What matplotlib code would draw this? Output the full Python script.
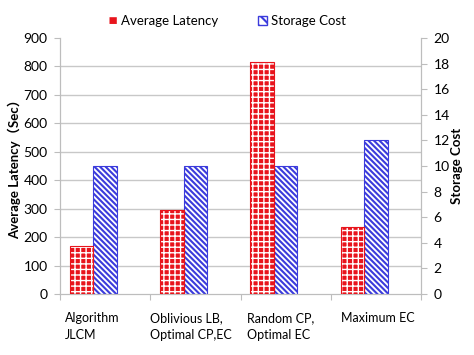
import matplotlib
matplotlib.use("Agg")
import matplotlib.pyplot as plt
import numpy as np
from matplotlib.patches import Patch

plt.rcParams['font.family'] = ['Lato', 'Noto Sans CJK SC', 'DejaVu Sans']
plt.rcParams['hatch.linewidth'] = 1.5

categories = ["Algorithm\nJLCM", "Oblivious LB,\nOptimal CP,EC",
              "Random CP,\nOptimal EC", "Maximum EC"]
latency = [170, 296, 815, 235]
storage = [10, 10, 10, 12]

fig = plt.figure(figsize=(4.74, 3.55), dpi=100)
ax = fig.add_axes([0.1266, 0.172, 0.7616, 0.721])
ax2 = ax.twinx()
ax.set_zorder(2)
ax.patch.set_visible(False)

x = np.arange(len(categories))
w = 0.26

# latency bars sit left of the category centre, storage bars on the centre
with plt.rc_context({"hatch.linewidth": 1.0}):
    ax.bar(x - w, latency, width=w, color="#e8141c", edgecolor="white",
           hatch="+++", linewidth=0, zorder=3)
ax.bar(x - w, latency, width=w, facecolor="none",
       edgecolor="#e8141c", linewidth=0.8, zorder=4)
ax2.bar(x, storage, width=w, color="white", edgecolor="#3b3bdc",
        hatch="\\\\\\\\\\\\", linewidth=0.8, zorder=3)

ax.set_xlim(-0.5, 3.5)
ax.set_ylim(0, 900)
ax.set_yticks(np.arange(0, 901, 100))
ax2.set_ylim(0, 20)
ax2.set_yticks(np.arange(0, 21, 2))

ax2.set_yticks(np.arange(0, 901, 100) / 45, minor=True)
ax2.yaxis.grid(True, which="minor", color="#c8c8c8", linewidth=1.0, zorder=0)
ax2.tick_params(axis="y", which="minor", length=0)
ax2.set_axisbelow(True)

for a in (ax, ax2):
    a.spines["top"].set_visible(False)
    for s in ("left", "right", "bottom"):
        a.spines[s].set_color("#bdbdbd")
    a.tick_params(axis="y", which="major", labelsize=10, length=4,
                  color="#bdbdbd", pad=5)

ax.set_xticks(np.arange(-0.5, 3.6, 1))
ax.set_xticklabels([])
ax.tick_params(axis="x", length=4, color="#bdbdbd")

label_x = [-0.45, -0.5, -0.43, -0.39]
for i, lab in enumerate(categories):
    ax.text(i + label_x[i], -0.07, lab, transform=ax.get_xaxis_transform(),
            ha="left", va="top", fontsize=9, linespacing=1.5)

ax.set_ylabel("Average Latency（Sec）", fontsize=9.5, fontweight="bold", labelpad=2)
ax2.set_ylabel("Storage Cost", fontsize=9.5, fontweight="bold", labelpad=1)

handles = [Patch(facecolor="#e8141c", edgecolor="white", hatch="+"),
           Patch(facecolor="white", edgecolor="#3b3bdc", hatch="\\\\\\")]
fig.legend(handles, ["Average Latency", "Storage Cost"], loc="center",
           bbox_to_anchor=(0.479, 0.94), ncol=2, frameon=False, fontsize=9.5,
           handlelength=0.7, handleheight=0.7, handletextpad=0.3, columnspacing=3.0)

fig.savefig("out.png", dpi=100)
